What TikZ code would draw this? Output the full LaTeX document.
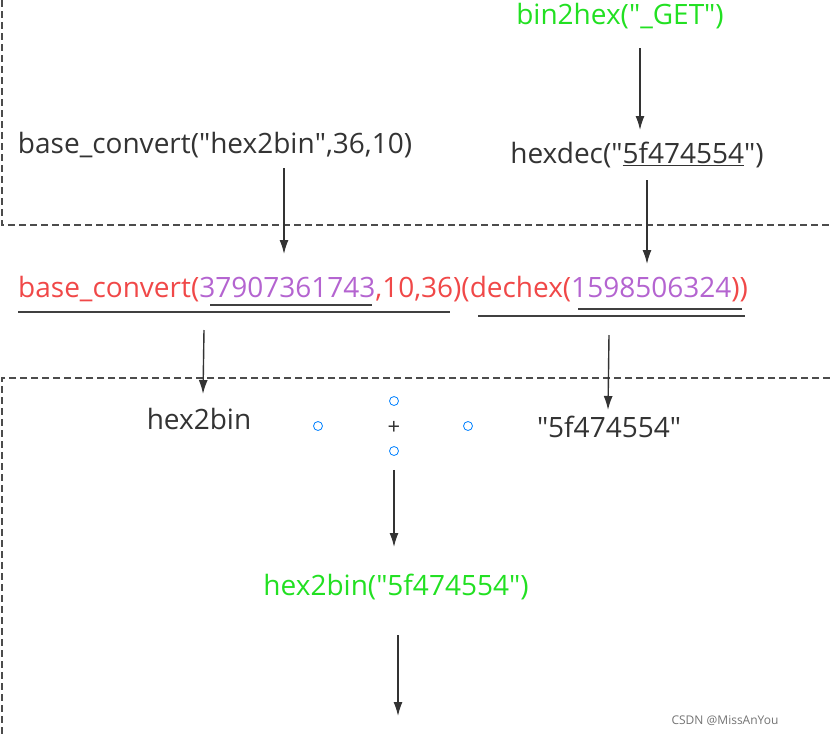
\documentclass[tikz,border=0pt]{standalone}
\usepackage{fontspec}
\setmainfont{Open Sans}
\newfontfamily\qfont{Open Sans}
\newcommand{\qq}{{\qfont\char34}}
\begin{document}
\begin{tikzpicture}[x=1pt,y=-1pt,
  txt/.style={inner sep=0pt,font=\fontsize{28}{32}\selectfont,text=black!80},
  arr/.style={draw=black!80,line width=1.4pt,-{Latex[length=14pt,width=9pt]}},
  dsh/.style={draw=black!70,line width=1.3pt,dash pattern=on 7pt off 4pt},
  uline/.style={draw=black!75,line width=1.2pt},
  dot/.style={circle,draw=blue!50!cyan,line width=0.8pt,inner sep=0pt,minimum size=9pt}]
\usetikzlibrary{arrows.meta}
\useasboundingbox (0,0) rectangle (830,737);
\definecolor{redt}{HTML}{F04848}
\definecolor{purp}{HTML}{B464D0}
\definecolor{grnt}{HTML}{22E022}
% dashed frames
\draw[dsh] (2,0) -- (2,225) -- (830,225);
\draw[dsh] (830,378) -- (2,378) -- (2,737);
% top
\node[txt,text=grnt] (b2h) at (620,16) {bin2hex(\qq\_GET\qq)};
\node[txt] (hexdec) at (637,155) {hexdec(\qq\underline{5f474554}\qq)};
\node[txt] (bc1) at (215,145) {base\_convert(\qq hex2bin\qq,36,10)};
\coordinate (a1s) at (640,48); \coordinate (a1e) at (640,130);
\draw[arr] (a1s) -- (a1e);
\coordinate (a2s) at (284,168); \coordinate (a2e) at (284,254);
\draw[arr] (a2s) -- (a2e);
\coordinate (a3s) at (647,180); \coordinate (a3e) at (647,264);
\draw[arr] (a3s) -- (a3e);
% middle red line
\node[txt,text=redt,anchor=west] (mid) at (18,289) {base\_convert(\textcolor{purp}{37907361743},10,36)(dechex(\textcolor{purp}{1598506324}))};
\coordinate (u1a) at (210,305); \coordinate (u1b) at (372,305);
\draw[uline] (u1a) -- (u1b);
\coordinate (u2a) at (18,312); \coordinate (u2b) at (450,312);
\draw[uline] (u2a) -- (u2b);
\coordinate (u3a) at (578,309); \coordinate (u3b) at (742,309);
\draw[uline] (u3a) -- (u3b);
\coordinate (u4a) at (478,316); \coordinate (u4b) at (745,316);
\draw[uline] (u4a) -- (u4b);
\coordinate (a4s) at (204,330); \coordinate (a4e) at (203,394);
\draw[arr] (a4s) -- (a4e);
\coordinate (a5s) at (609,335); \coordinate (a5e) at (608,410);
\draw[arr] (a5s) -- (a5e);
% bottom
\node[txt] (h2b) at (199,419) {hex2bin};
\node[txt] (str) at (609,427) {\qq 5f474554\qq};
\node[txt,font=\fontsize{22}{24}\selectfont] (plus) at (394,428) {+};
\node[dot] (d1) at (318,426) {};
\node[dot] (d2) at (394,401) {};
\node[dot] (d3) at (468,426) {};
\node[dot] (d4) at (394,451) {};
\coordinate (a6e) at (394,547);
\draw[arr] ([yshift=-14pt]d4.south) -- (a6e);
\node[txt,text=grnt] (res) at (396,587) {hex2bin(\qq 5f474554\qq)};
\coordinate (a7s) at (398,635); \coordinate (a7e) at (398,716);
\draw[arr] (a7s) -- (a7e);
\node[inner sep=0pt,font=\fontsize{12}{14}\selectfont,text=black!55] (wm) at (725,721) {CSDN @MissAnYou};
\end{tikzpicture}
\end{document}
